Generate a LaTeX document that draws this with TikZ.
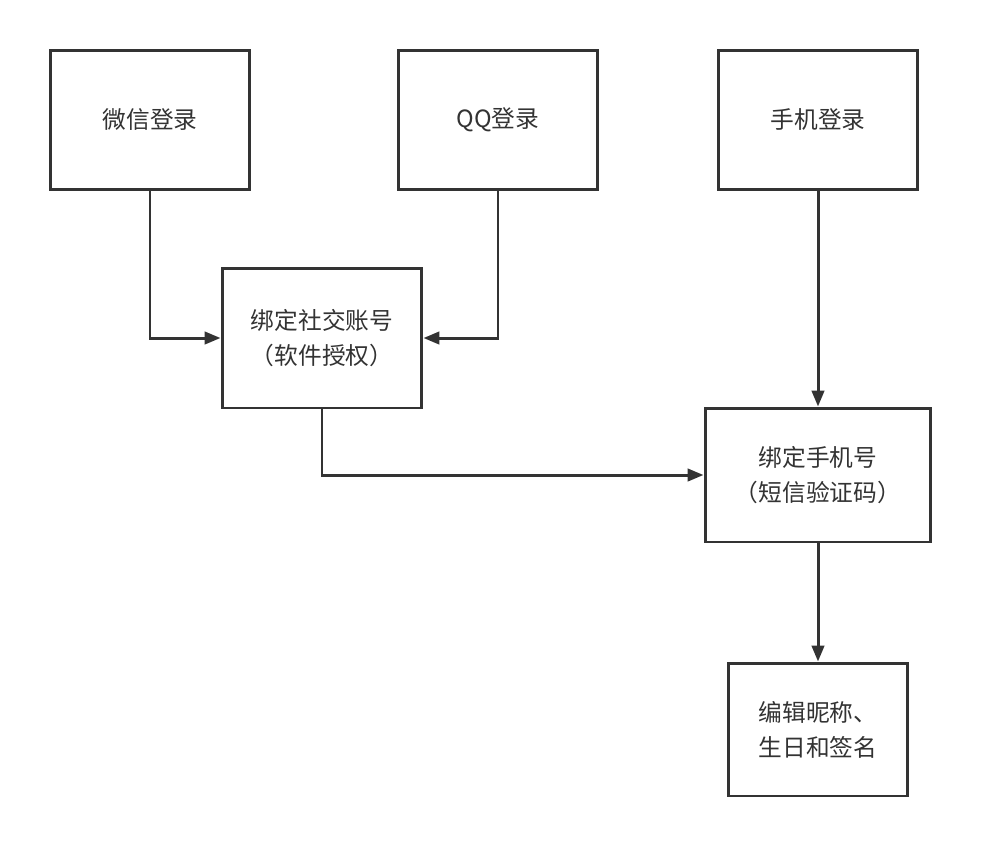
\documentclass[tikz,border=0pt]{standalone}
\usepackage{fontspec}
\setmainfont{Noto Sans CJK SC}
\usetikzlibrary{arrows.meta}
\definecolor{linegray}{HTML}{333333}
\tikzset{
  stepbox/.style={draw=linegray, line width=1.7pt, fill=white, minimum width=#1, align=center, font=\fontsize{13.5pt}{20pt}\selectfont, text=linegray},
  flow/.style={draw=linegray, line width=1.7pt, -{Triangle[length=9pt, width=7pt]}}
}
\begin{document}
\begin{tikzpicture}[x=0.02cm, y=-0.02cm]
        \useasboundingbox (0,0) rectangle (981,846);
        % login boxes
        \node[stepbox=4cm, minimum height=2.8cm] (wechat) at (150,120) {微信登录};
        \node[stepbox=4cm, minimum height=2.8cm] (qq) at (498,120) {QQ登录};
        \node[stepbox=4cm, minimum height=2.8cm] (mobile) at (818,120) {手机登录};
        % binding boxes
        \node[stepbox=4cm, minimum height=2.8cm] (social) at (322,338) {绑定社交账号\\（软件授权）};
        \node[stepbox=4.52cm, minimum height=2.68cm] (phone) at (818,475) {绑定手机号\\（短信验证码）};
        \node[stepbox=3.6cm, minimum height=2.66cm, align=left] (profile) at (818,729.5) {编辑昵称、\\生日和签名};
        % connectors
        \draw[flow] (wechat.south) |- (social.west);
        \draw[flow] (qq.south) |- (social.east);
        \draw[flow] (social.south) |- (phone.west);
        \draw[flow] (mobile) -- (phone);
        \draw[flow] (phone) -- (profile);
\end{tikzpicture}
\end{document}
